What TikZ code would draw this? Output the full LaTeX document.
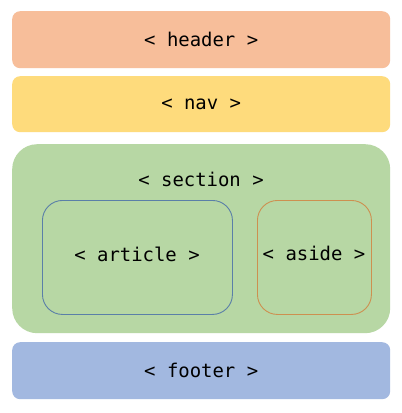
\documentclass[tikz,border=0pt]{standalone}
\usepackage{fontspec}
\setmonofont{DejaVu Sans Mono}
\definecolor{cheader}{HTML}{F7BE9A}
\definecolor{cnav}{HTML}{FEDB7C}
\definecolor{csection}{HTML}{B7D7A4}
\definecolor{cfooter}{HTML}{A2B8E0}
\definecolor{carticle}{HTML}{5A7FA8}
\definecolor{caside}{HTML}{CD9050}
\tikzset{
  lbl/.style={font=\ttfamily\fontsize{19}{21}\selectfont, text=black},
  band/.style={lbl, rectangle, rounded corners=8bp, inner sep=0pt, anchor=north west, minimum width=378bp},
  inbox/.style={rectangle, rounded corners=20bp, inner sep=0pt, anchor=north west, line width=0.9bp, fill=csection},
}
\begin{document}
\begin{tikzpicture}[x=1bp,y=-1bp]
\useasboundingbox[fill=white] (0,0) rectangle (402,413);
\node[band, fill=cheader, minimum height=57bp] (header) at (12,11) {< header >};
\node[band, fill=cnav, minimum height=56bp] (nav) at (12,76) {< nav >};
\node[band, fill=csection, rounded corners=25bp, minimum height=189bp] (section) at (12,144) {};
\node[lbl] (sectionlabel) at (201,179) {< section >};
\node[inbox, draw=carticle, minimum width=190bp, minimum height=114bp] (article) at (42,200) {};
\node[lbl] (articlelabel) at (137,254) {< article >};
\node[inbox, draw=caside, minimum width=114bp, minimum height=114bp] (aside) at (257,200) {};
\node[lbl] (asidelabel) at (314,253) {< aside >};
\node[band, fill=cfooter, minimum height=57bp] (footer) at (12,342) {< footer >};
\end{tikzpicture}
\end{document}
